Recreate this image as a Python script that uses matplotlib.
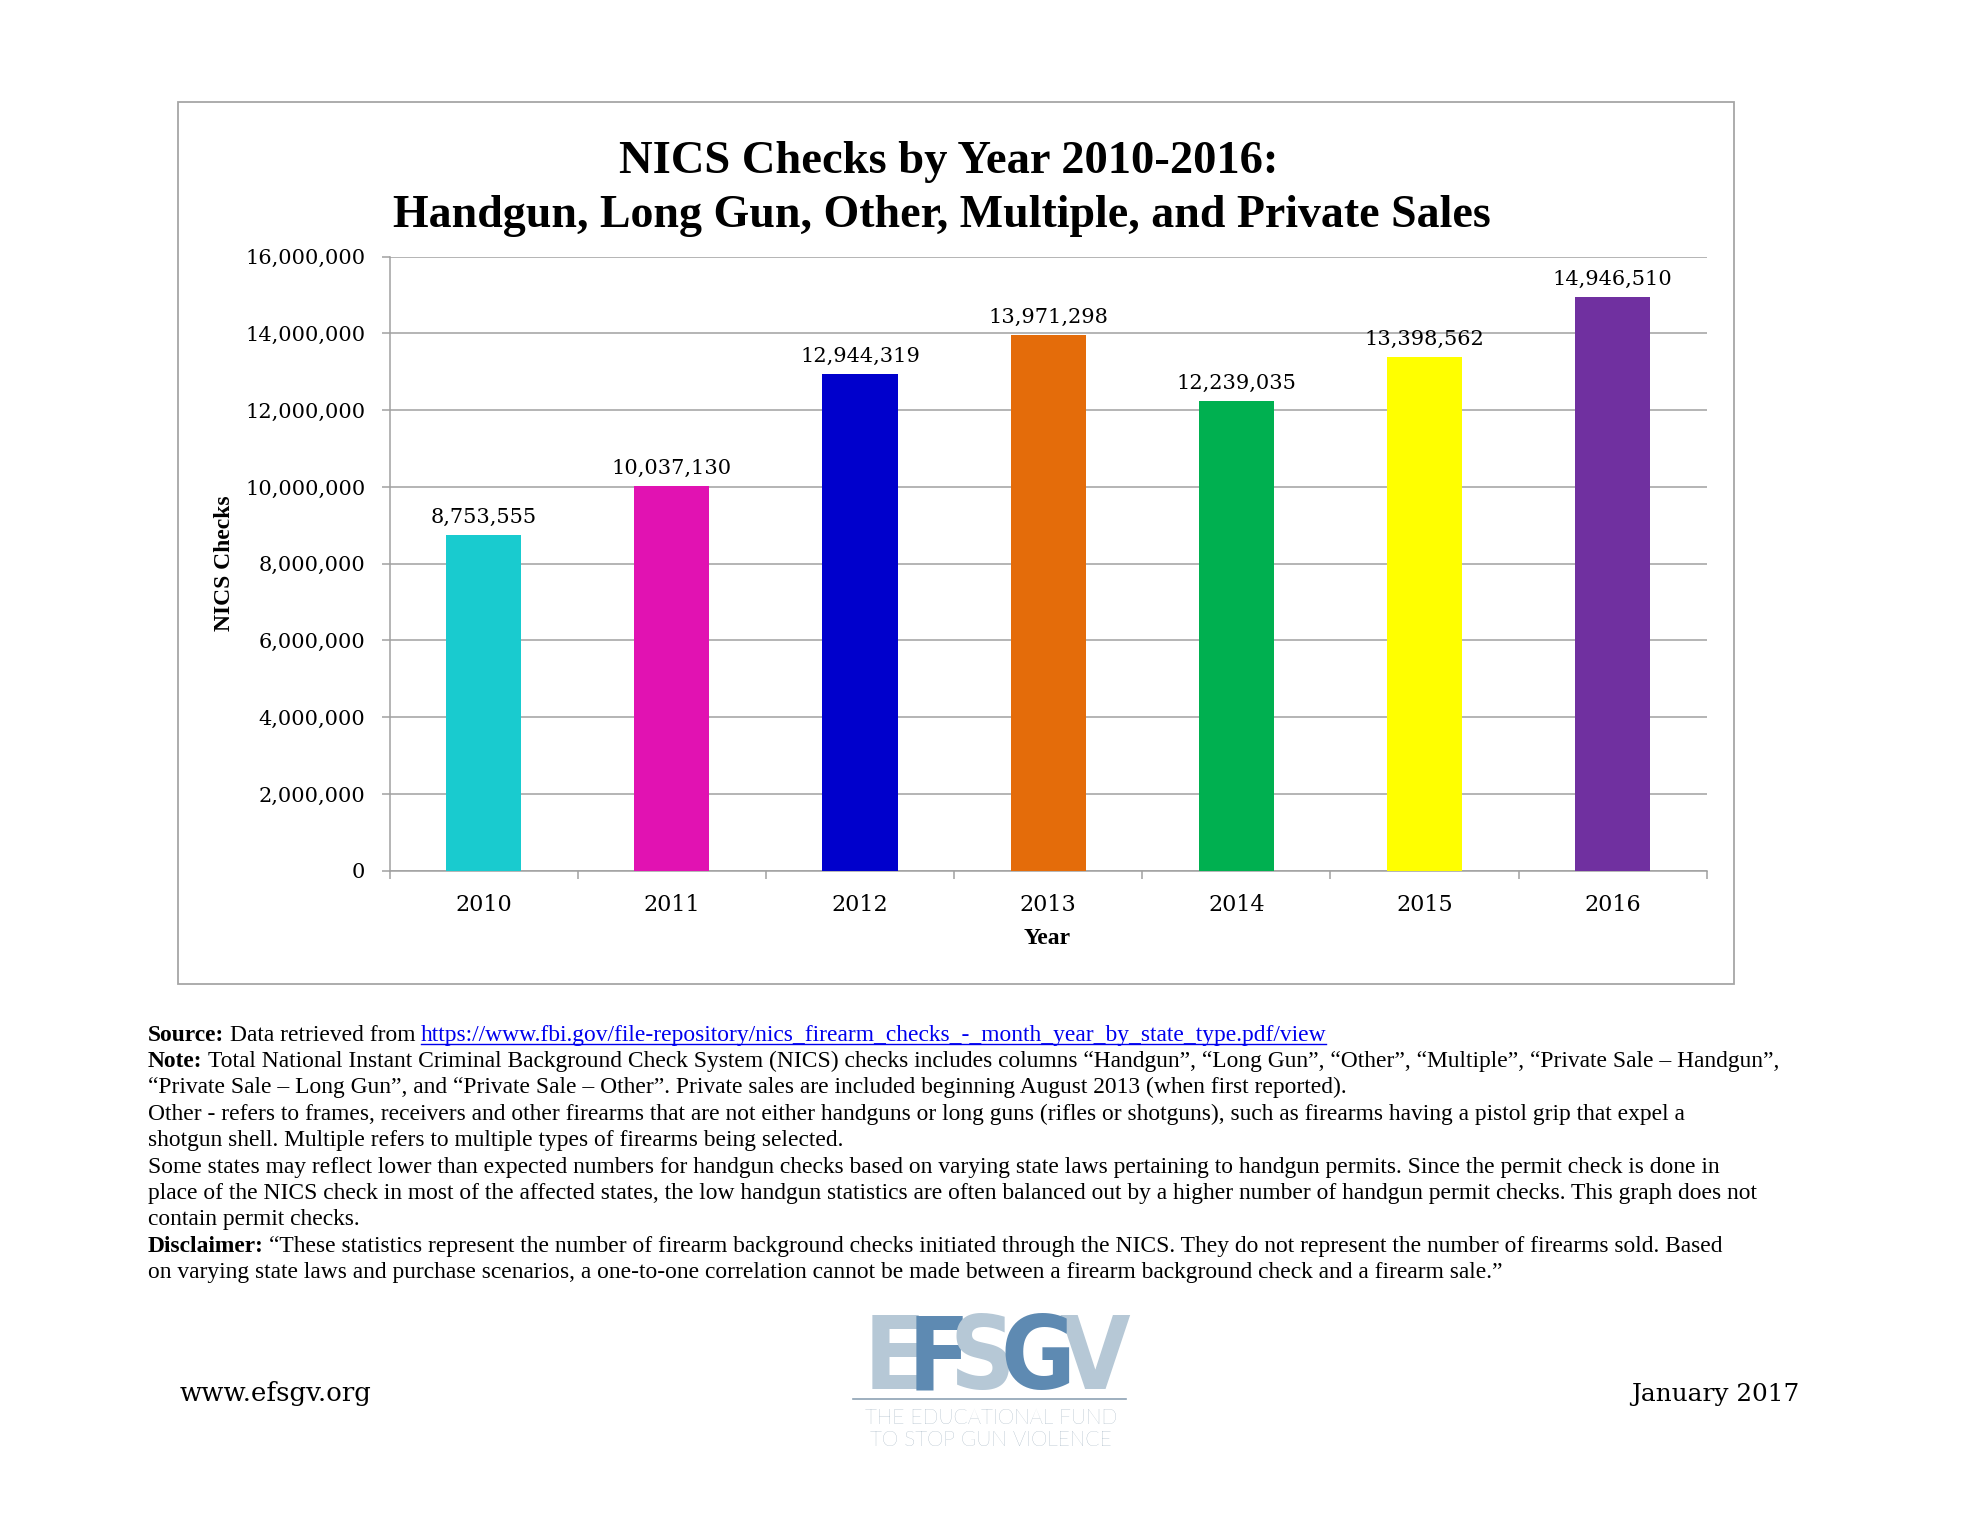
import matplotlib
matplotlib.use("Agg")
import matplotlib.pyplot as plt
from matplotlib.patches import Rectangle
from matplotlib.lines import Line2D
from matplotlib.ticker import FuncFormatter, FixedLocator

# ---------------- data ----------------
years = ["2010", "2011", "2012", "2013", "2014", "2015", "2016"]
checks = [8753555, 10037130, 12944319, 13971298, 12239035, 13398562, 14946510]
bar_colors = ["#19CBCF", "#E112B2", "#0000CC", "#E46C0A", "#00B050", "#FFFF00", "#7030A0"]
y_ticks = [0, 2000000, 4000000, 6000000, 8000000, 10000000, 12000000, 14000000, 16000000]

title_lines = ["NICS Checks by Year 2010-2016:",
               "Handgun, Long Gun, Other, Multiple, and Private Sales"]
y_label = "NICS Checks"
x_label = "Year"

source_url = "https://www.fbi.gov/file-repository/nics_firearm_checks_-_month_year_by_state_type.pdf/view"
footnotes = [
    [("Source:", "bold"), ("Data retrieved from", "normal"), (source_url, "link")],
    [("Note:", "bold"), ("Total National Instant Criminal Background Check System (NICS) checks includes columns \u201cHandgun\u201d, \u201cLong Gun\u201d, \u201cOther\u201d, \u201cMultiple\u201d, \u201cPrivate Sale \u2013 Handgun\u201d,", "normal")],
    [("\u201cPrivate Sale \u2013 Long Gun\u201d, and \u201cPrivate Sale \u2013 Other\u201d. Private sales are included beginning August 2013 (when first reported).", "normal")],
    [("Other - refers to frames, receivers and other firearms that are not either handguns or long guns (rifles or shotguns), such as firearms having a pistol grip that expel a", "normal")],
    [("shotgun shell. Multiple refers to multiple types of firearms being selected.", "normal")],
    [("Some states may reflect lower than expected numbers for handgun checks based on varying state laws pertaining to handgun permits. Since the permit check is done in", "normal")],
    [("place of the NICS check in most of the affected states, the low handgun statistics are often balanced out by a higher number of handgun permit checks. This graph does not", "normal")],
    [("contain permit checks.", "normal")],
    [("Disclaimer:", "bold"), ("\u201cThese statistics represent the number of firearm background checks initiated through the NICS. They do not represent the number of firearms sold. Based", "normal")],
    [("on varying state laws and purchase scenarios, a one-to-one correlation cannot be made between a firearm background check and a firearm sale.\u201d", "normal")],
]
footer_left = "www.efsgv.org"
footer_right = "January 2017"
logo_letters = ["E", "F", "S", "V", "G"]
logo_sub = ["THE EDUCATIONAL FUND", "TO STOP GUN VIOLENCE"]

# ---------------- figure ----------------
W, H = 1980, 1530
fig = plt.figure(figsize=(W / 100, H / 100), dpi=100)
fig.patch.set_facecolor("white")
SERIF = "DejaVu Serif"
TSERIF = "Liberation Serif"
GRID = "#a0a0a0"


def fx(px):
    return px / W


def fy(py):
    return 1 - py / H


# chart frame
fig.patches.append(Rectangle((fx(178), fy(984)), fx(1734) - fx(178), fy(101.7) - fy(984),
                             transform=fig.transFigure, fill=False, edgecolor="#a6a6a6",
                             linewidth=1.3, zorder=0))

ax = fig.add_axes([fx(389.6), fy(870.7), fx(1706.7) - fx(389.6), fy(256.7) - fy(870.7)])
x = list(range(len(years)))
bars = ax.bar(x, checks, width=0.4, color=bar_colors, zorder=3)
ax.set_xlim(-0.5, len(years) - 0.5)
ax.set_ylim(0, 16000000)
ax.set_yticks(y_ticks)
ax.yaxis.set_major_formatter(FuncFormatter(lambda v, p: f"{int(v):,}"))
ax.set_xticks(x)
ax.set_xticklabels(years)
ax.xaxis.set_minor_locator(FixedLocator([i - 0.5 for i in range(len(years) + 1)]))
ax.grid(axis="y", color=GRID, linewidth=1.1, zorder=0)
ax.set_axisbelow(True)
for s in ["top", "right"]:
    ax.spines[s].set_visible(False)
for s in ["left", "bottom"]:
    ax.spines[s].set_color(GRID)
    ax.spines[s].set_linewidth(1.1)
ax.tick_params(axis="y", direction="out", length=5.5, width=1.1, color=GRID, pad=12,
               labelsize=15)
ax.tick_params(axis="x", which="major", length=0, pad=17, labelsize=16)
ax.tick_params(axis="x", which="minor", direction="out", length=5.5, width=1.1, color=GRID)
for lab in ax.get_xticklabels() + ax.get_yticklabels():
    lab.set_family(SERIF)

for xi, v in zip(x, checks):
    ax.annotate(f"{v:,}", (xi, v), xytext=(0, 8.5), textcoords="offset points",
                ha="center", va="baseline", fontsize=15, family=SERIF)

# titles and labels
fig.text(fx(949), fy(173), title_lines[0], ha="center", va="baseline",
         fontsize=33.5, fontweight="bold", family=TSERIF)
fig.text(fx(941.5), fy(227), title_lines[1], ha="center", va="baseline",
         fontsize=33, fontweight="bold", family=TSERIF)
fig.text(fx(225), fy(563), y_label, rotation=90, ha="center", va="center",
         fontsize=17, fontweight="bold", family=TSERIF)
fig.text(fx(1047), fy(938), x_label, ha="center", va="center",
         fontsize=17, fontweight="bold", family=TSERIF)

# footnotes
fig.canvas.draw()
renderer = fig.canvas.get_renderer()
FN_SIZE = 16.9
gap = 5.5
for i, parts in enumerate(footnotes):
    base = 1040.7 + 26.4 * i
    cur = 148.0
    for txt, kind in parts:
        weight = "bold" if kind == "bold" else "normal"
        color = "#0000EE" if kind == "link" else "black"
        t = fig.text(fx(cur), fy(base), txt, ha="left", va="baseline", fontsize=FN_SIZE,
                     fontweight=weight, color=color, family=TSERIF)
        bb = t.get_window_extent(renderer)
        if kind == "link":
            fig.add_artist(Line2D([fx(bb.x0), fx(bb.x1)], [fy(base + 3), fy(base + 3)],
                                  transform=fig.transFigure, color=color, linewidth=1.0))
        cur = bb.x1 + gap

# footer
fig.text(fx(180), fy(1400.5), footer_left, ha="left", va="baseline", fontsize=18.7, family=SERIF)
fig.text(fx(1799), fy(1400.5), footer_right, ha="right", va="baseline", fontsize=17.8, family=SERIF)

# logo
LIGHT = "#B6C8D6"
DARK = "#5E8AB2"
logo_x = {"E": 864, "F": 908, "S": 950, "G": 1000, "V": 1060}
logo_c = {"E": LIGHT, "F": DARK, "S": LIGHT, "G": DARK, "V": LIGHT}
for ch in logo_letters:
    fig.text(fx(logo_x[ch]), fy(1389), ch, ha="left", va="baseline", fontsize=73,
             fontweight="bold", fontstretch="condensed", color=logo_c[ch], family="DejaVu Sans")
fig.add_artist(Line2D([fx(853), fx(1126)], [fy(1399), fy(1399)], transform=fig.transFigure,
                      color="#8DA2B4", linewidth=1.2))
fig.text(fx(991), fy(1423.5), logo_sub[0], ha="center", va="baseline", fontsize=15,
         color="#8299AC", family="Lato", fontweight="light")
fig.text(fx(991), fy(1446), logo_sub[1], ha="center", va="baseline", fontsize=15,
         color="#8299AC", family="Lato", fontweight="light")

fig.savefig("out.png", dpi=100, facecolor="white")
